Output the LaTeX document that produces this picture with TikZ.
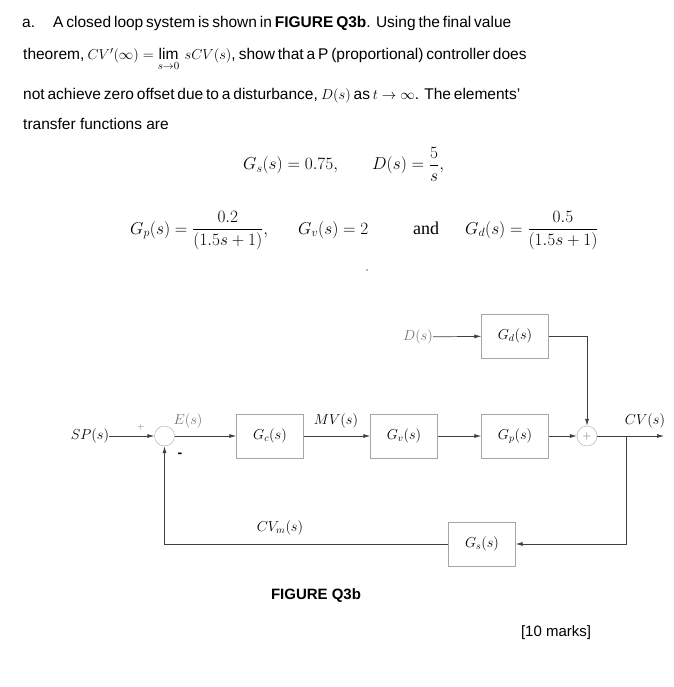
\documentclass[tikz,border=0pt]{standalone}
\usepackage{amsmath}
\usepackage{fontspec}
\setmainfont{Liberation Sans}
\newfontfamily\serifit{Liberation Serif}
\usetikzlibrary{arrows.meta}
\begin{document}
\begin{tikzpicture}[x=1pt,y=-1pt,
  txt/.style={anchor=base west,inner sep=0pt,font=\fontsize{15.5}{17}\selectfont},
  eq/.style={anchor=base west,inner sep=0pt,font=\fontsize{18}{20}\selectfont},
  blk/.style={draw=black!35,minimum width=67pt,minimum height=44pt,inner sep=0pt,font=\fontsize{14}{16}\selectfont},
  sumc/.style={circle,draw=black!35,minimum size=20pt,inner sep=0pt},
  lbl/.style={inner sep=0pt,font=\fontsize{14}{16}\selectfont},
  wire/.style={draw=black!75,line width=0.7pt},
  arr/.style={wire,-{Latex[length=7pt,width=4pt]}}]
\useasboundingbox (0,0) rectangle (673,687);
% text
\node[txt] (ta) at (22,28) {a.};
\node[txt] (t1) at (53,28) {\makebox[417pt][s]{A closed loop system is shown in \textbf{FIGURE Q3b}. Using the final value}};
\node[txt] (t2) at (23,60) {\makebox[447pt][s]{theorem, $CV'(\infty)=\lim\limits_{s\to0}\ sCV(s)$, show that a P (proportional) controller does}};
\node[txt] (t3) at (23,100) {\makebox[447pt][s]{not achieve zero offset due to a disturbance, $D(s)$ as $t\to\infty$. The elements'}};
\node[txt] (t4) at (23,130) {transfer functions are};
\node[eq] (e1) at (243,170) {$G_s(s)=0.75,$};
\node[eq] (e2) at (372,170) {$D(s)=\dfrac{5}{s},$};
\node[eq] (e3) at (130,234) {$G_p(s)=\dfrac{0.2}{(1.5s+1)},$};
\node[eq] (e4) at (298,234) {$G_v(s)=2$};
\node[eq] (e5) at (413,234) {\serifit and};
\node[eq] (e6) at (465,234) {$G_d(s)=\dfrac{\;\;0.5\;\;}{(1.5s+1)}$};
\fill[black!60] (367,270) circle (0.8);
% diagram
\node[blk] (gd) at (515,336) {$G_d(s)$};
\node[blk] (gc) at (270,436) {$G_c(s)$};
\node[blk] (gv) at (404,436) {$G_v(s)$};
\node[blk] (gp) at (515,436) {$G_p(s)$};
\node[blk] (gs) at (482,544) {$G_s(s)$};
\node[sumc] (s1) at (164.5,436) {};
\node[sumc] (s2) at (587,436) {\textcolor{black!60}{\large$+$}};
\node[lbl] (sp) at (90,436) {$SP(s)$};
\node[lbl,text=black!55] (ds) at (418,337) {$D(s)$};
\node[lbl,text=black!55] (es) at (188,421) {$E(s)$};
\node[lbl] (mv) at (336,421) {$MV(s)$};
\node[lbl] (cv) at (645,421) {$CV(s)$};
\node[lbl] (cvm) at (280,528) {$CV_m(s)$};
\node[lbl,text=black!60] (plus) at (141,427) {\small$+$};
\node[lbl] (minus) at (180,455) {\textbf{-}};
\coordinate (out) at (664,436);
\coordinate (br) at (626,436);
\draw[arr] (sp) -- (s1);
\draw[arr] (s1) -- (gc);
\draw[arr] (gc) -- (gv);
\draw[arr] (gv) -- (gp);
\draw[arr] (gp) -- (s2);
\draw[arr] (ds) -- (gd);
\draw[arr] (gd.east) -| (s2);
\draw[arr] (s2) -- (out);
\draw[arr] (br) |- (gs);
\draw[arr] (gs) -| (s1);
\node[inner sep=0pt,font=\bfseries\fontsize{15}{17}\selectfont] (fig) at (316,596) {FIGURE Q3b};
\node[inner sep=0pt,font=\fontsize{15}{17}\selectfont] (mk) at (556,633) {[10 marks]};
\end{tikzpicture}
\end{document}
